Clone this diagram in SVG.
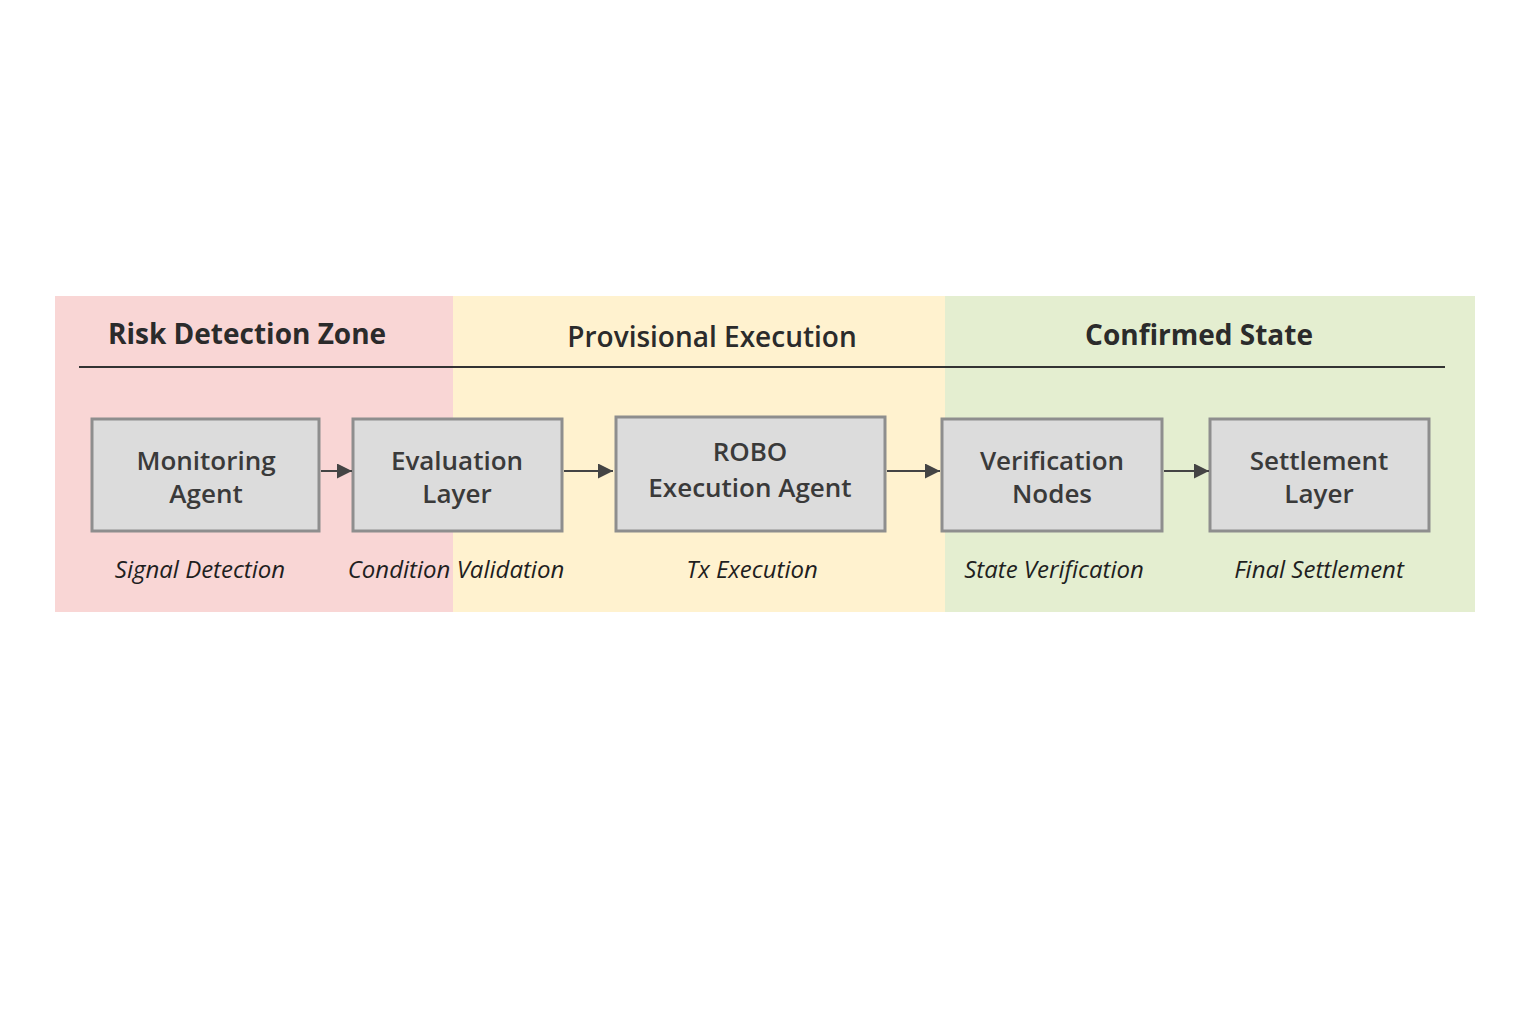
<svg xmlns="http://www.w3.org/2000/svg" width="1536" height="1024" viewBox="0 0 1536 1024">
<defs>
<style>
.title{font-family:"Open Sans","Noto Sans",sans-serif;font-size:28px;font-weight:700;fill:#2b2b2b}
.node rect{fill:#dcdcdc;stroke:#8e8e8e;stroke-width:3}
.node text{font-family:"Open Sans","Noto Sans",sans-serif;font-size:26px;font-weight:600;fill:#3a3a3a;text-anchor:middle}
.sub{font-family:"Open Sans","Noto Sans",sans-serif;font-size:24px;font-style:italic;fill:#1f1f1f;text-anchor:middle}
.conn line{stroke:#444;stroke-width:2}
</style>
<marker id="ah" viewBox="0 0 10 10" refX="10" refY="5" markerWidth="15" markerHeight="15" markerUnits="userSpaceOnUse" orient="auto">
<path d="M0,0 L10,5 L0,10 z" fill="#444"/>
</marker>
</defs>
<rect width="1536" height="1024" fill="#fff"/>
<g id="zones">
<rect x="55" y="296" width="398" height="316" fill="#f9d6d5"/>
<rect x="453" y="296" width="492" height="316" fill="#fff2cf"/>
<rect x="945" y="296" width="530" height="316" fill="#e4eed0"/>
<line x1="79" y1="367" x2="1445" y2="367" stroke="#333" stroke-width="2"/>
<text class="title" x="108" y="344">Risk Detection Zone</text>
<text class="title" x="712" y="347" text-anchor="middle" style="font-weight:600">Provisional Execution</text>
<text class="title" x="1199" y="345" text-anchor="middle">Confirmed State</text>
</g>
<g id="monitoring" class="node">
<rect x="92" y="419" width="227" height="112"/>
<text x="206" y="470">Monitoring</text>
<text x="206" y="503">Agent</text>
</g>
<g id="evaluation" class="node">
<rect x="353" y="419" width="209" height="112"/>
<text x="457" y="470">Evaluation</text>
<text x="457" y="503">Layer</text>
</g>
<g id="robo" class="node">
<rect x="616" y="417" width="269" height="114"/>
<text x="750" y="461">ROBO</text>
<text x="750" y="497">Execution Agent</text>
</g>
<g id="verification" class="node">
<rect x="942" y="419" width="220" height="112"/>
<text x="1052" y="470">Verification</text>
<text x="1052" y="503">Nodes</text>
</g>
<g id="settlement" class="node">
<rect x="1210" y="419" width="219" height="112"/>
<text x="1319" y="470">Settlement</text>
<text x="1319" y="503">Layer</text>
</g>
<g id="labels">
<text class="sub" x="200" y="578">Signal Detection</text>
<text class="sub" x="456" y="578">Condition Validation</text>
<text class="sub" x="752" y="578">Tx Execution</text>
<text class="sub" x="1054" y="578">State Verification</text>
<text class="sub" x="1319" y="578">Final Settlement</text>
</g>
<g id="connectors" class="conn">
<line x1="321" y1="471" x2="352" y2="471" marker-end="url(#ah)"/>
<line x1="564" y1="471" x2="613" y2="471" marker-end="url(#ah)"/>
<line x1="887" y1="471" x2="940" y2="471" marker-end="url(#ah)"/>
<line x1="1164" y1="471" x2="1209" y2="471" marker-end="url(#ah)"/>
</g>
</svg>
